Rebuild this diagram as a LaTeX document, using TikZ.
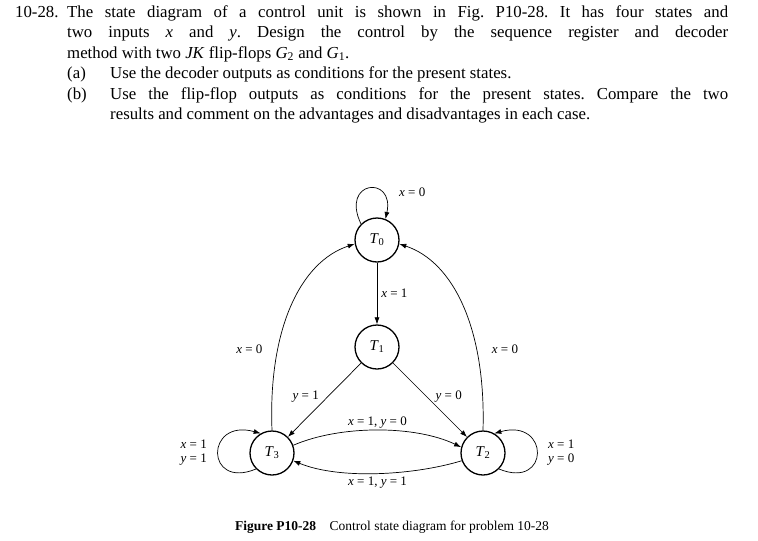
\documentclass[tikz,border=0pt]{standalone}
\usepackage{fontspec}
\setmainfont{Liberation Serif}
\usetikzlibrary{arrows.meta}
\newcommand{\vx}{\textit{x}}
\newcommand{\vy}{\textit{y}}
\begin{document}
\begin{tikzpicture}[x=1pt,y=-1pt,
  st/.style={circle,draw,line width=1.3pt,minimum size=44pt,inner sep=0pt,font=\fontsize{15}{15}\selectfont},
  tr/.style={-{Latex[length=7pt,width=5pt]},line width=0.7pt},
  lb/.style={font=\fontsize{13}{14}\selectfont,inner sep=1pt}]
\useasboundingbox (0,0) rectangle (758,541);
\node[anchor=north west,inner sep=0pt,text width=713pt,font=\fontsize{16.8}{20.5}\selectfont,align=justify] (txt) at (15,5) {\frenchspacing%
\hangindent=52pt\hangafter=1\makebox[52pt][l]{10-28.}The state diagram of a control unit is shown in Fig.\ P10-28. It has four states and\linebreak two inputs \vx{} and \vy. Design the control by the sequence register and decoder\linebreak method with two \textit{JK} flip-flops \textit{G}\textsubscript{2} and \textit{G}\textsubscript{1}.\par
\leftskip=52pt\hangindent=43pt\hangafter=1\makebox[43pt][l]{(a)}Use the decoder outputs as conditions for the present states.\par
\hangindent=43pt\hangafter=1\makebox[43pt][l]{(b)}Use the flip-flop outputs as conditions for the present states. Compare the two\linebreak results and comment on the advantages and disadvantages in each case.\par};
\node[st] (T0) at (377,240) {\textit{T}\textsubscript{0}};
\node[st] (T1) at (377,347) {\textit{T}\textsubscript{1}};
\node[st] (T3) at (272,453) {\textit{T}\textsubscript{3}};
\node[st] (T2) at (483,453) {\textit{T}\textsubscript{2}};
\draw[tr] (T0) -- node[lb,right=3pt] {\vx{} = 1} (T1);
\draw[tr] (T1) -- node[lb,pos=0.45,left=8pt] {\vy{} = 1} (T3);
\draw[tr] (T1) -- node[lb,pos=0.45,right=8pt] {\vy{} = 0} (T2);
\draw[tr] (T3.90) .. controls (268,330) and (300,262) .. node[lb,pos=0.3,left=14pt] {\vx{} = 0} (T0.190);
\draw[tr] (T2.90) .. controls (486,330) and (454,262) .. node[lb,pos=0.3,right=14pt] {\vx{} = 0} (T0.-10);
\draw[tr] (T0.135) .. controls (340,180) and (395,175) .. (T0.68);
\draw[tr] (T3.225) .. controls (205,490) and (205,418) .. (T3.120);
\draw[tr] (T2.-45) .. controls (550,490) and (550,418) .. (T2.60);
\draw[tr] (T3.20) .. controls (340,425) and (415,425) .. node[lb,above=1pt] {\vx{} = 1, \vy{} = 0} (T2.165);
\draw[tr] (T2.200) .. controls (415,475) and (340,480) .. node[lb,below=2pt] {\vx{} = 1, \vy{} = 1} (T3.-20);
\node[lb,anchor=west] (l0) at (398,192) {\vx{} = 0};
\node[lb,align=left,anchor=east] (l3) at (208,453) {\vx{} = 1\\\vy{} = 1};
\node[lb,align=left,anchor=west] (l2) at (547,453) {\vx{} = 1\\\vy{} = 0};
\node[font=\fontsize{13.5}{15}\selectfont] (cap) at (392,527) {\textbf{Figure P10-28}\quad Control state diagram for problem 10-28};
\end{tikzpicture}
\end{document}
